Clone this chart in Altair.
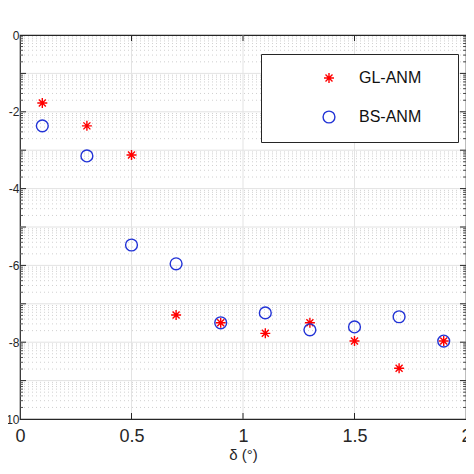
import altair as alt
import pandas as pd

# ---- data ----
delta = [0.1, 0.3, 0.5, 0.7, 0.9, 1.1, 1.3, 1.5, 1.7, 1.9]
gl_anm = [1.7e-2, 4.3e-3, 7.5e-4, 5.1e-8, 3.2e-8, 1.7e-8, 3.2e-8, 1.07e-8, 2.1e-9, 1.07e-8]
bs_anm = [4.3e-3, 7.1e-4, 3.4e-6, 1.1e-6, 3.2e-8, 5.8e-8, 2.1e-8, 2.5e-8, 4.6e-8, 1.07e-8]
series = ["GL-ANM", "BS-ANM"]

x_ticks = [0, 0.5, 1, 1.5, 2]
x_grid = [0.5, 1, 1.5]
y_decades = [1e-10, 1e-9, 1e-8, 1e-7, 1e-6, 1e-5, 1e-4, 1e-3, 1e-2, 1e-1, 1]
y_inner_decades = y_decades[1:-1]
y_minor = [m * d for d in y_decades[:-1] for m in range(2, 10)]

W, H = 446, 384
AX = "#262626"
FONT = "Liberation Sans"

xs = alt.Scale(domain=[0, 2], nice=False, zero=False)
ys = alt.Scale(type="log", domain=[1e-10, 1], nice=False)

x_axis = alt.Axis(values=x_ticks, format="~g", grid=False, ticks=False, tickSize=0,
                  domain=False, labelPadding=8, labelFontSize=18, labelFlush=False,
                  labelBound=False, labelOverlap=False, titleFontSize=15,
                  titleFontWeight="normal", titlePadding=2)
y_axis = alt.Axis(values=y_decades, grid=False, ticks=False, tickSize=0, domain=False,
                  labelPadding=1, labelFontSize=12, labelOverlap=False,
                  labelBound=False, labelFlush=False,
                  labelExpr="(round(log(datum.value)/LN10) % 2 == 0) ? "
                            "('' + round(log(datum.value)/LN10)) : ''")


def X():
    return alt.X("x:Q", scale=xs, axis=x_axis, title="δ (°)")


def Y():
    return alt.Y("y:Q", scale=ys, axis=y_axis, title=None)


pts = pd.DataFrame({
    "x": delta * 2,
    "y": gl_anm + bs_anm,
    "s": [series[0]] * len(delta) + [series[1]] * len(delta),
})

star = "M-1,0L1,0M0,-1L0,1M-0.7,-0.7L0.7,0.7M-0.7,0.7L0.7,-0.7"


def hrules(vals, x0, x1, color, dash=None, width=1.0):
    kw = dict(color=color, strokeWidth=width)
    if dash:
        kw["strokeDash"] = dash
    return alt.Chart(pd.DataFrame({"y": vals})).mark_rule(**kw).encode(
        y=Y(), x=alt.value(x0), x2=alt.value(x1))


def vrules(vals, y0, y1, color, width=1.0):
    return alt.Chart(pd.DataFrame({"x": vals})).mark_rule(color=color, strokeWidth=width).encode(
        x=X(), y=alt.value(y0), y2=alt.value(y1))


GRID = "#e3e3e3"
MINOR = "#c4c4c4"

layers = [
    hrules(y_minor, 0, W, MINOR, dash=[1, 3], width=0.8),
    hrules(y_inner_decades, 0, W, GRID),
    vrules(x_grid, 0, H, GRID),
    # ticks (inward, MATLAB style)
    hrules(y_inner_decades, 0, 6, AX),
    hrules(y_inner_decades, W - 6, W, AX),
    hrules(y_minor, 0, 3, AX, width=0.8),
    hrules(y_minor, W - 3, W, AX, width=0.8),
    vrules(x_grid, H - 6, H, AX),
    vrules(x_grid, 0, 6, AX),
]

pad = "\u2003\u2005\u200b"

points = alt.Chart(pts).mark_point(filled=False, strokeWidth=1.4, opacity=1).encode(
    x=X(),
    y=Y(),
    color=alt.Color("s:N", scale=alt.Scale(domain=series, range=["#ff0000", "#2233d6"]),
                    legend=alt.Legend(title=None, orient="none", legendX=241, legendY=19,
                                      padding=16, rowPadding=22, symbolOffset=44,
                                      labelOffset=22, symbolSize=110, symbolStrokeWidth=1.4,
                                      labelFontSize=16, labelFont=FONT, labelColor="#111111",
                                      strokeColor=AX, fillColor="white",
                                      labelExpr="datum.label + '" + pad + "'")),
    shape=alt.Shape("s:N", scale=alt.Scale(domain=series, range=[star, "circle"])),
    size=alt.Size("s:N", scale=alt.Scale(domain=series, range=[100, 140]), legend=None),
)

chart = alt.layer(*layers, points).properties(
    width=W, height=H,
    autosize=alt.AutoSizeParams(type="none"),
    padding={"left": 12, "top": 27, "right": 0, "bottom": 45},
    background="white",
).configure_view(stroke=AX, strokeWidth=1.2, fill="white").configure_axis(
    labelFont=FONT, titleFont=FONT, labelColor=AX, titleColor=AX
)

chart.save("out.html", embed_options={"renderer": "svg", "actions": False})
